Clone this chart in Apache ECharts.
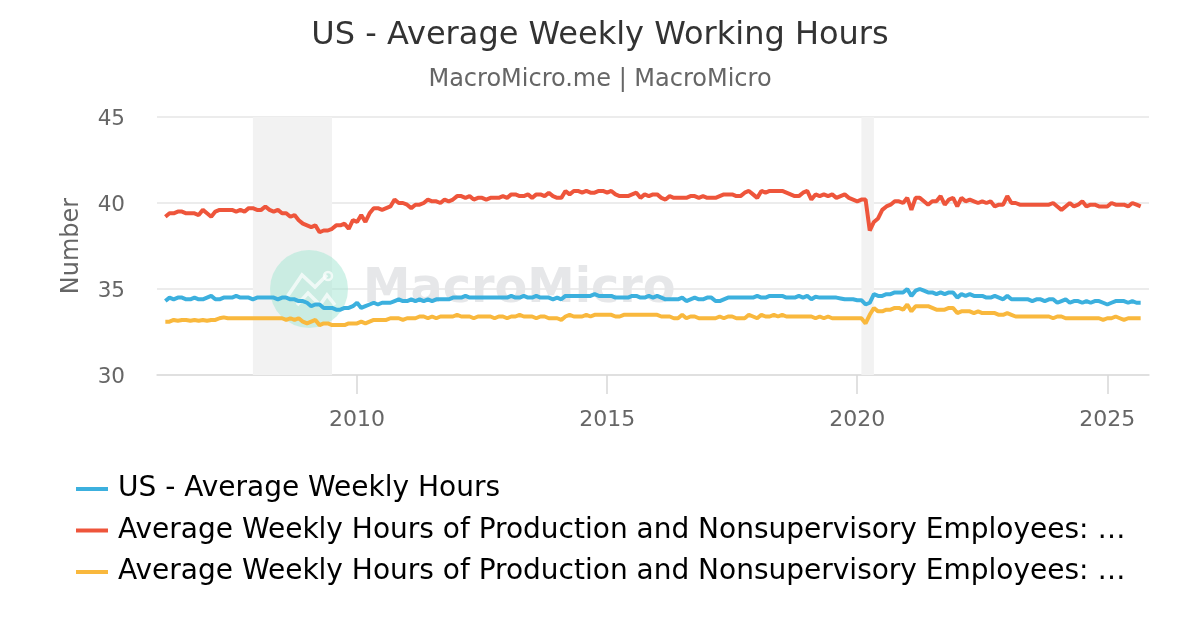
<!DOCTYPE html>
<html><head><meta charset="utf-8">
<style>html,body{margin:0;padding:0;background:#fff}#c{width:1200px;height:630px}</style>
<script src="https://cdn.jsdelivr.net/npm/echarts@6/dist/echarts.min.js"></script>
</head><body><div id="c"></div>
<script>
const axisFirstYear = 2006, axisLastYear = 2025, axisLastMonth = 11;
const dataStart = '2006-03';
const seriesNames = ['US - Average Weekly Hours',
 'Average Weekly Hours of Production and Nonsupervisory Employees: Manufacturing',
 'Average Weekly Hours of Production and Nonsupervisory Employees: Total Private'];
const colors = ['#3cb0de','#ee553b','#f9b83d'];
const recessions = [['2007-12','2009-07'],['2020-02','2020-05']];
const blue = [
34.3,34.5,34.4,34.5,34.5,34.4,34.4,34.5,34.4,34.4,
34.5,34.6,34.4,34.4,34.5,34.5,34.5,34.6,34.5,34.5,34.5,34.4,
34.5,34.5,34.5,34.5,34.5,34.4,34.5,34.5,34.4,34.4,34.3,34.3,
34.2,34.0,34.1,34.1,33.9,33.9,33.9,33.8,33.8,33.9,33.9,34.0,
34.2,33.9,34.0,34.1,34.2,34.1,34.2,34.2,34.2,34.3,34.4,34.3,
34.3,34.4,34.3,34.4,34.3,34.4,34.3,34.4,34.4,34.4,34.4,34.5,
34.5,34.5,34.6,34.5,34.5,34.5,34.5,34.5,34.5,34.5,34.5,34.5,
34.5,34.6,34.5,34.5,34.6,34.5,34.5,34.6,34.5,34.5,34.5,34.4,
34.5,34.4,34.6,34.6,34.6,34.6,34.6,34.6,34.6,34.7,34.6,34.6,
34.6,34.6,34.5,34.5,34.5,34.5,34.6,34.6,34.5,34.5,34.6,34.5,
34.6,34.5,34.4,34.4,34.4,34.4,34.5,34.3,34.4,34.5,34.4,34.4,
34.5,34.5,34.3,34.3,34.4,34.5,34.5,34.5,34.5,34.5,34.5,34.5,
34.6,34.5,34.5,34.6,34.6,34.6,34.6,34.5,34.5,34.5,34.6,34.5,
34.6,34.4,34.55,34.5,34.5,34.5,34.5,34.5,34.45,34.4,34.4,34.4,
34.35,34.35,34.1,34.2,34.7,34.6,34.6,34.7,34.7,34.8,34.8,34.8,
35.0,34.6,34.9,35.0,34.9,34.8,34.8,34.7,34.8,34.7,34.8,34.8,
34.5,34.7,34.6,34.7,34.6,34.6,34.6,34.5,34.5,34.6,34.5,34.4,
34.6,34.4,34.4,34.4,34.4,34.4,34.3,34.4,34.4,34.3,34.4,34.4,
34.2,34.3,34.4,34.2,34.3,34.3,34.2,34.3,34.2,34.3,34.3,34.2,
34.1,34.2,34.3,34.3,34.3,34.2,34.3,34.2,34.2];
const red = [
39.2,39.4,39.4,39.5,39.5,39.4,39.4,39.4,39.3,39.6,
39.4,39.2,39.5,39.6,39.6,39.6,39.6,39.5,39.6,39.5,39.7,39.7,
39.6,39.6,39.8,39.6,39.5,39.6,39.4,39.4,39.2,39.3,39.0,38.8,
38.7,38.6,38.7,38.3,38.4,38.4,38.5,38.7,38.7,38.8,38.5,39.0,
38.9,39.3,38.9,39.4,39.7,39.7,39.6,39.7,39.8,40.2,40.0,40.0,
39.9,39.7,39.9,39.9,40.0,40.2,40.1,40.1,40.0,40.2,40.1,40.2,
40.4,40.4,40.3,40.4,40.2,40.3,40.3,40.2,40.3,40.3,40.3,40.4,
40.3,40.5,40.5,40.4,40.4,40.5,40.3,40.5,40.5,40.4,40.6,40.4,
40.3,40.3,40.7,40.5,40.7,40.7,40.6,40.7,40.6,40.6,40.7,40.7,
40.6,40.7,40.5,40.4,40.4,40.4,40.5,40.6,40.3,40.5,40.4,40.5,
40.5,40.3,40.2,40.4,40.3,40.3,40.3,40.3,40.4,40.4,40.3,40.4,
40.3,40.3,40.3,40.4,40.5,40.5,40.5,40.4,40.4,40.6,40.7,40.5,
40.3,40.7,40.6,40.7,40.7,40.7,40.7,40.6,40.5,40.4,40.4,40.6,
40.7,40.2,40.5,40.4,40.5,40.4,40.5,40.3,40.4,40.5,40.3,40.2,
40.1,40.2,40.2,38.4,38.9,39.1,39.6,39.8,39.9,40.1,40.1,40.0,
40.3,39.6,40.3,40.3,40.1,39.9,40.1,40.1,40.4,39.9,40.2,40.3,
39.8,40.3,40.1,40.2,40.1,40.0,40.1,40.0,40.1,39.8,39.9,39.9,
40.4,40.0,40.0,39.9,39.9,39.9,39.9,39.9,39.9,39.9,39.9,40.0,
39.8,39.6,39.8,40.0,39.8,39.9,40.1,39.8,39.9,39.9,39.8,39.8,
39.8,40.0,39.9,39.9,39.9,39.8,40.0,39.9,39.8];
const yellow = [
33.1,33.1,33.2,33.15,33.2,33.2,33.15,33.2,33.15,33.2,
33.15,33.2,33.2,33.3,33.35,33.3,33.3,33.3,33.3,33.3,33.3,33.3,
33.3,33.3,33.3,33.3,33.3,33.3,33.3,33.2,33.3,33.2,33.3,33.1,
33.0,33.1,33.2,32.9,33.0,33.0,32.9,32.9,32.9,32.9,33.0,33.0,
33.0,33.1,33.0,33.1,33.2,33.2,33.2,33.2,33.3,33.3,33.3,33.2,
33.3,33.3,33.3,33.4,33.4,33.3,33.4,33.3,33.4,33.4,33.4,33.4,
33.5,33.4,33.4,33.4,33.3,33.4,33.4,33.4,33.4,33.3,33.4,33.4,
33.3,33.4,33.4,33.5,33.4,33.4,33.4,33.3,33.4,33.4,33.3,33.3,
33.3,33.2,33.4,33.5,33.4,33.4,33.4,33.5,33.4,33.5,33.5,33.5,
33.5,33.5,33.4,33.4,33.5,33.5,33.5,33.5,33.5,33.5,33.5,33.5,
33.5,33.4,33.4,33.4,33.3,33.3,33.5,33.3,33.4,33.4,33.3,33.3,
33.3,33.3,33.3,33.4,33.3,33.4,33.4,33.3,33.3,33.3,33.5,33.4,
33.3,33.5,33.4,33.4,33.5,33.4,33.5,33.4,33.4,33.4,33.4,33.4,
33.4,33.4,33.3,33.4,33.3,33.4,33.3,33.3,33.3,33.3,33.3,33.3,
33.3,33.3,33.0,33.5,33.9,33.7,33.7,33.8,33.8,33.9,33.9,33.8,
34.1,33.7,34.0,34.0,34.0,34.0,33.9,33.8,33.8,33.8,33.9,33.9,
33.6,33.7,33.7,33.7,33.6,33.7,33.6,33.6,33.6,33.6,33.5,33.5,
33.6,33.5,33.4,33.4,33.4,33.4,33.4,33.4,33.4,33.4,33.4,33.3,
33.4,33.4,33.3,33.3,33.3,33.3,33.3,33.3,33.3,33.3,33.3,33.2,
33.3,33.3,33.4,33.3,33.2,33.3,33.3,33.3,33.3];
const yTicks = {min:30,max:45,interval:5};
const labelEveryYears = 5;

const months = [];
for (let y = axisFirstYear; y <= axisLastYear; y++) {
  for (let m = 1; m <= 12; m++) {
    if (y === axisLastYear && m > axisLastMonth) break;
    months.push(y + '-' + String(m).padStart(2, '0'));
  }
}
const offset = months.indexOf(dataStart);
const place = vals => vals.map((v, i) => [months[offset + i], v]);
const isLabelMonth = (idx, name) => name.endsWith('-01') && Number(name.slice(0, 4)) % labelEveryYears === 0;

const font = 'DejaVu Sans';
const chart = echarts.init(document.getElementById('c'), null, {renderer:'canvas'});
const recessionArea = {
  silent:true, itemStyle:{color:'#f2f2f2'}, z:1,
  data: recessions.map(r=>[{xAxis:r[0]},{xAxis:r[1]}])
};
chart.setOption({
  animation:false,
  backgroundColor:'#fff',
  textStyle:{fontFamily:font},
  title:[
    {text:'US - Average Weekly Working Hours',left:'center',top:15,
     textStyle:{fontFamily:font,fontSize:32,fontWeight:'normal',color:'#333'}},
    {text:'MacroMicro.me | MacroMicro',left:'center',top:62.5,
     textStyle:{fontFamily:font,fontSize:24,fontWeight:'normal',color:'#666'}}
  ],
  color:colors,
  grid:{left:157,right:51,top:117,bottom:255,containLabel:false},
  xAxis:{type:'category',data:months,boundaryGap:false,
    axisLine:{show:true,lineStyle:{color:'#dcdcdc',width:1.5}},
    axisTick:{show:true,alignWithLabel:true,length:19,interval:isLabelMonth,lineStyle:{color:'#d8d8d8',width:1.5}},
    splitLine:{show:false},
    axisLabel:{color:'#666',fontSize:22,margin:34,interval:isLabelMonth,formatter:v=>v.slice(0,4)}
  },
  yAxis:{type:'value',...yTicks,name:'Number',nameLocation:'middle',nameGap:73,
    nameTextStyle:{color:'#666',fontSize:24},
    axisLine:{show:false},axisTick:{show:false},
    axisLabel:{color:'#666',fontSize:21.5,margin:32,verticalAlign:'top',padding:[-8.5,0,0,0]},
    splitLine:{lineStyle:{color:'#e6e6e6',width:1.5}}
  },
  legend:{orient:'vertical',left:71,top:470,itemGap:13.5,itemWidth:32,itemHeight:4,
    icon:'rect',
    textStyle:{fontFamily:font,fontSize:28,color:'#000',width:1010,overflow:'truncate',ellipsis:'…',padding:[0,0,0,5]},
    data:seriesNames},
  graphic:[
    {type:'circle',z:2,shape:{cx:309,cy:289,r:39},style:{fill:'rgba(170,232,214,0.55)'}},
    {type:'polyline',z:2,shape:{points:[[287,297],[302,275],[315,287],[327,275]]},style:{stroke:'#fff',fill:null,lineWidth:3.5,opacity:0.7}},
    {type:'polyline',z:2,shape:{points:[[297,305],[308,293],[320,305],[327,295],[335,305]]},style:{stroke:'#fff',fill:null,lineWidth:3.5,opacity:0.7}},
    {type:'circle',z:2,shape:{cx:328,cy:276,r:4},style:{fill:'none',stroke:'#fff',lineWidth:2.5,opacity:0.7}},
    {type:'text',z:2,x:363,y:266,style:{text:'MacroMicro',fontFamily:font,fontWeight:'bold',fontSize:47.7,fill:'#e6e7e9'}}
  ],
  series:[
    {name:seriesNames[0],type:'line',data:place(blue),showSymbol:false,lineStyle:{width:4,color:colors[0]},itemStyle:{color:colors[0]},z:10,markArea:recessionArea},
    {name:seriesNames[1],type:'line',data:place(red),showSymbol:false,lineStyle:{width:4,color:colors[1]},itemStyle:{color:colors[1]},z:10},
    {name:seriesNames[2],type:'line',data:place(yellow),showSymbol:false,lineStyle:{width:4,color:colors[2]},itemStyle:{color:colors[2]},z:10}
  ]
});
</script></body></html>
